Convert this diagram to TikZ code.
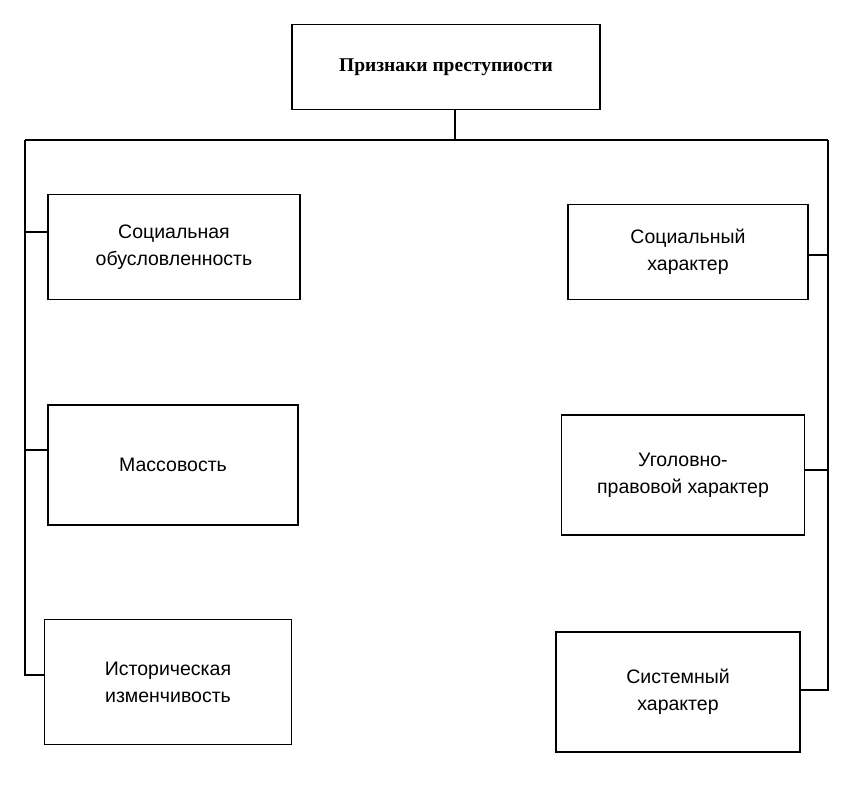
\documentclass[tikz,border=0pt]{standalone}
\usepackage{fontspec}
\setmainfont{Liberation Sans}
\newfontfamily\topfont{Liberation Serif}
\begin{document}
\begin{tikzpicture}[x=1pt,y=-1pt,line width=1.8pt,
  box/.style={draw,align=center,font=\fontsize{19.5}{27}\selectfont,inner sep=0pt}]
\useasboundingbox (0,0) rectangle (852,800);
\node[box,minimum width=308,minimum height=85,font=\topfont\bfseries\fontsize{19.5}{22}\selectfont] (top) at (446,67) {Признаки преступиости};
\node[box,minimum width=252,minimum height=105] (l1) at (174,247) {Социальная\\обусловленность};
\node[box,minimum width=250,minimum height=120] (l2) at (173,465) {Массовость};
\node[box,minimum width=247,minimum height=125] (l3) at (168,682) {Историческая\\изменчивость};
\node[box,minimum width=240,minimum height=95] (r1) at (688,252) {Социальный\\характер};
\node[box,minimum width=243,minimum height=120] (r2) at (683,475) {Уголовно-\\правовой характер};
\node[box,minimum width=244,minimum height=120] (r3) at (678,692) {Системный\\характер};
\coordinate (j) at (455,140);
\coordinate (lt) at (25,140);
\coordinate (rt) at (828,140);
\draw (top.south -| j) -- (j);
\draw (lt) -- (rt);
\draw (lt) -- (25,675) -- (l3.west |- 0,675);
\draw (25,232) -- (l1.west |- 0,232);
\draw (25,450) -- (l2.west |- 0,450);
\draw (rt) -- (828,690) -- (r3.east |- 0,690);
\draw (828,255) -- (r1.east |- 0,255);
\draw (828,470) -- (r2.east |- 0,470);
\end{tikzpicture}
\end{document}
